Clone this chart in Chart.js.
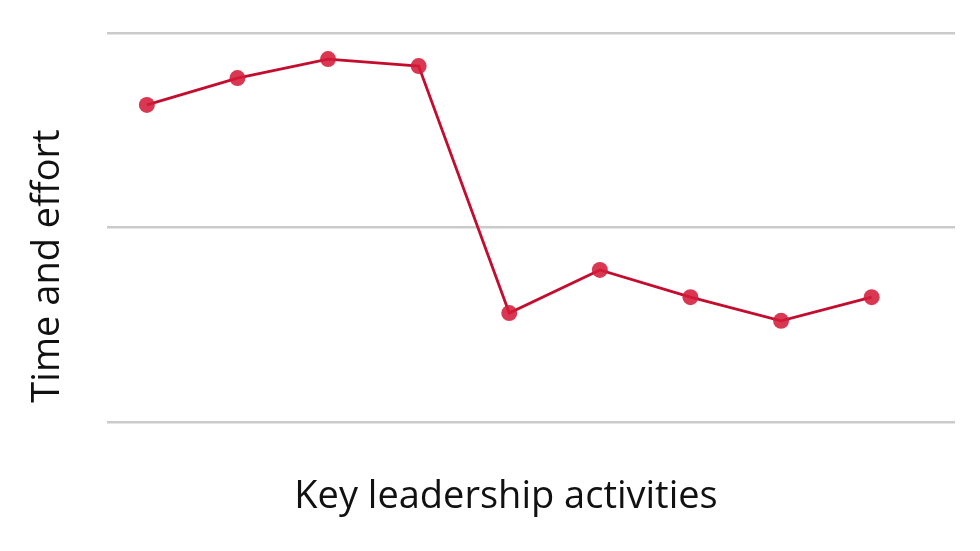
<!DOCTYPE html>
<html>
<head>
<meta charset="utf-8">
<script src="https://cdn.jsdelivr.net/npm/chart.js@4"></script>
<style>
  html, body { margin: 0; padding: 0; background: #fff; }
  #wrap { width: 980px; height: 551px; }
</style>
</head>
<body>
<div id="wrap"><canvas id="effortChart" width="980" height="551"></canvas></div>
<script>
    // activities are unnamed in the picture, just numbered left to right
    const activities = [1, 2, 3, 4, 5, 6, 7, 8, 9];
    const effort = [8.15, 8.84, 9.33, 9.15, 2.80, 3.91, 3.21, 2.60, 3.21];
    const yTicks = [0, 5, 10];

    const xTitle = 'Key leadership activities';
    const yTitle = 'Time and effort';

    // axis titles sit a bit off-centre in the original, so draw them by hand
    const axisTitles = {
      id: 'axisTitles',
      afterDraw(chart) {
        const c = chart.ctx;
        c.save();
        c.fillStyle = '#111';
        c.font = '38px "Open Sans"';
        c.textAlign = 'center';
        c.textBaseline = 'middle';
        c.fillText(xTitle, 506, 497);
        c.translate(48, 266);
        c.rotate(-Math.PI / 2);
        c.fillText(yTitle, 0, 0);
        c.restore();
      }
    };

    const ctx = document.getElementById('effortChart').getContext('2d');
    let chart = new Chart(ctx, {
      type: 'line',
      data: {
        datasets: [
          {
            label: 'Time and effort',
            data: activities.map((a, i) => ({ x: a, y: effort[i] })),
            borderColor: '#C40C2E',
            borderWidth: 2.8,
            fill: false,
            tension: 0,
            pointStyle: 'circle',
            pointRadius: 8,
            pointBorderWidth: 0,
            pointBackgroundColor: 'rgba(212, 28, 58, 0.88)'
          }
        ]
      },
      options: {
        responsive: false,
        animation: false,
        layout: { padding: { left: 107, right: 25, top: 33, bottom: 129 } },
        scales: {
          x: {
            type: 'linear',
            min: 0.56,
            max: 9.92,
            display: false
          },
          y: {
            min: 0,
            max: 10,
            afterBuildTicks: s => { s.ticks = yTicks.map(v => ({ value: v })); },
            afterFit: s => { s.width = 0; },
            ticks: { display: false },
            border: { display: false },
            grid: { color: '#cbcbcb', lineWidth: 2.5, drawTicks: false }
          }
        },
        plugins: {
          legend: { display: false },
          tooltip: { enabled: false }
        }
      },
      plugins: [axisTitles]
    });
</script>
</body>
</html>
